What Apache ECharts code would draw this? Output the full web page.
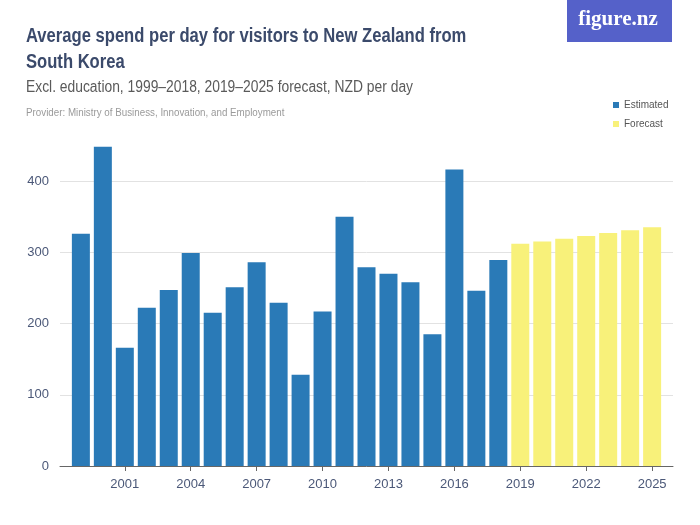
<!DOCTYPE html>
<html>
<head>
<meta charset="utf-8">
<title>Average spend per day - South Korea</title>
<script src="https://cdn.jsdelivr.net/npm/echarts@6/dist/echarts.min.js"></script>
<style>
  html, body { margin: 0; padding: 0; background: #fff; }
  #chart { width: 700px; height: 525px; }
</style>
</head>
<body>
<div id="chart"></div>
<script>
// estimated values 1999-2018, forecast 2019-2025 (NZD per day)
var estYears = [1999, 2000, 2001, 2002, 2003, 2004, 2005, 2006, 2007, 2008,
  2009, 2010, 2011, 2012, 2013, 2014, 2015, 2016, 2017, 2018]
var estValues = [326, 448, 166, 222, 247, 299, 215, 251, 286, 229,
  128, 217, 350, 279, 270, 258, 185, 416, 246, 289]
var fcYears = [2019, 2020, 2021, 2022, 2023, 2024, 2025]
var fcValues = [312, 315, 319, 323, 327, 331, 335]
var xTicks = [2001, 2004, 2007, 2010, 2013, 2016, 2019, 2022, 2025]
var yTicks = [0, 100, 200, 300, 400]

var font = '"Liberation Sans", sans-serif'

function pairs(xs, ys) {
  return xs.map(function (x, i) { return [x, ys[i]] })
}

// condensed-looking heading text (squeezed horizontally)
function heading(text, y, size, weight, color, sx) {
  return {
    type: 'text',
    x: 26,
    y: y,
    scaleX: sx,
    style: {
      text: text,
      fill: color,
      font: weight + ' ' + size + 'px ' + font,
      align: 'left',
      verticalAlign: 'middle'
    }
  }
}

var chart = echarts.init(document.getElementById('chart'))
chart.setOption({
  animation: false,
  graphic: [
    heading('Average spend per day for visitors to New Zealand from', 36, 20, 'bold', '#3b4a6b', 0.83),
    heading('South Korea', 62, 20, 'bold', '#3b4a6b', 0.83),
    heading('Excl. education, 1999–2018, 2019–2025 forecast, NZD per day', 88, 16, 'normal', '#5a5a5a', 0.865),
    heading('Provider: Ministry of Business, Innovation, and Employment', 113, 11, 'normal', '#9a9a9a', 0.89),
    {
      type: 'rect',
      shape: { x: 567, y: 0, width: 105, height: 42 },
      style: { fill: '#5561c9' }
    },
    {
      type: 'text',
      x: 618,
      y: 20,
      style: {
        text: 'figure.nz',
        fill: '#fff',
        font: '600 21px "Liberation Serif", serif',
        align: 'center',
        verticalAlign: 'middle'
      }
    }
  ],
  legend: {
    orient: 'vertical',
    left: 608,
    top: 95,
    itemWidth: 6,
    itemHeight: 6,
    itemGap: 9,
    icon: 'rect',
    textStyle: { fontFamily: font, fontSize: 10, color: '#555' },
    data: ['Estimated', 'Forecast']
  },
  grid: { left: 60, right: 27, top: 145.4, bottom: 59 },
  xAxis: {
    type: 'value',
    min: 1998.05,
    max: 2025.95,
    splitLine: { show: false },
    axisLine: { show: true, lineStyle: { color: '#666', width: 1 } },
    axisTick: { show: true, length: 5, customValues: xTicks, lineStyle: { color: '#666' } },
    axisLabel: {
      customValues: xTicks,
      margin: 12,
      fontFamily: font,
      fontSize: 13,
      color: '#4b5878',
      formatter: function (v) { return String(v) }
    }
  },
  yAxis: {
    type: 'value',
    min: 0,
    max: 450,
    axisLine: { show: false },
    axisTick: { show: false, customValues: yTicks },
    splitLine: { show: true, lineStyle: { color: '#e2e2e2', width: 1 } },
    axisLabel: {
      customValues: yTicks,
      margin: 11,
      fontFamily: font,
      fontSize: 13,
      color: '#4b5878'
    }
  },
  series: [
    {
      name: 'Estimated',
      type: 'bar',
      barWidth: 18,
      barGap: '-100%',
      itemStyle: { color: '#2a7ab7' },
      data: pairs(estYears, estValues)
    },
    {
      name: 'Forecast',
      type: 'bar',
      barWidth: 18,
      barGap: '-100%',
      itemStyle: { color: '#f8f17a' },
      data: pairs(fcYears, fcValues)
    }
  ]
})
</script>
</body>
</html>
